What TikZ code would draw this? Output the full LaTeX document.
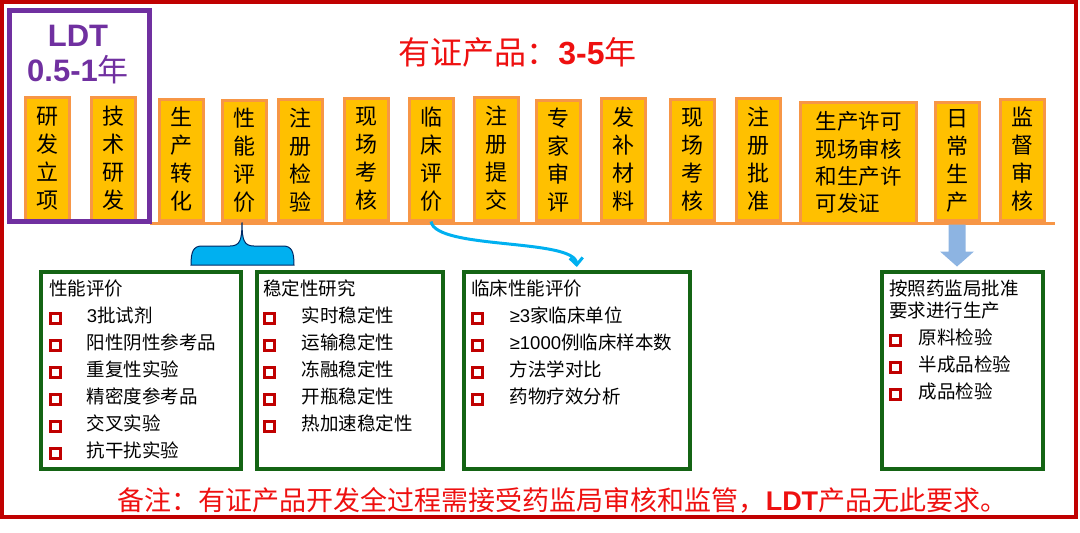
\documentclass[tikz,border=0pt]{standalone}
\usepackage{fontspec}
\setmainfont{Noto Sans CJK SC}
\newfontfamily\latinfont{Liberation Sans}
\usepackage{xcolor}
\usetikzlibrary{calc,positioning,arrows.meta}
\definecolor{framered}{RGB}{192,0,0}
\definecolor{notered}{RGB}{238,16,16}
\definecolor{ldtpurple}{RGB}{112,48,160}
\definecolor{stagefill}{RGB}{255,192,0}
\definecolor{stageline}{RGB}{247,150,70}
\definecolor{listgreen}{RGB}{20,100,20}
\definecolor{clincyan}{RGB}{0,176,240}
\definecolor{bracenavy}{RGB}{0,40,100}
\definecolor{prodblue}{RGB}{141,180,226}
\definecolor{chkred}{RGB}{192,0,0}
\newcommand{\chkbox}{{\setlength{\fboxrule}{2.8pt}\setlength{\fboxsep}{0pt}\raisebox{0.3pt}{\fcolorbox{chkred}{white}{\rule{0pt}{7pt}\rule{7pt}{0pt}}}}}
\newcommand{\ldtbf}[1]{{\latinfont\bfseries #1}}
\newcommand{\latin}[1]{{\latinfont #1}}
\tikzset{
  stagebox/.style={draw=stageline, fill=stagefill, line width=3pt, minimum width=44pt,
    inner sep=0pt, anchor=south, align=center, font=\fontsize{22}{28}\selectfont},
  listbox/.style={draw=listgreen, line width=4pt, inner sep=0pt},
  listtext/.style={inner sep=0pt, anchor=north west, font=\fontsize{18.5}{27}\selectfont},
}

\begin{document}
\begin{tikzpicture}[x=1pt,y=-1pt]
  \useasboundingbox (0,0) rectangle (1080,533);
  % outer frame
  \draw[framered, line width=4pt] (2,2) rectangle (1076,517);

  \node[font=\fontsize{32}{36}\selectfont, text=notered] (certtitle) at (517.5,52)
    {有证产品：\ldtbf{3-5}年};

  % stages
  \draw[stageline, line width=3pt] (150,223) -- (1055,223);
  \node[stagebox, minimum height=123pt] (rdproj) at (47.5,221.5) {研\\发\\立\\项};
  \node[stagebox, minimum height=123pt] (techrd) at (113.5,221.5) {技\\术\\研\\发};
  \node[stagebox, minimum height=121pt] (prodconv) at (181.5,221.5) {生\\产\\转\\化};
  \node[stagebox, minimum height=120pt] (perfeval) at (244,221.5) {性\\能\\评\\价};
  \node[stagebox, minimum height=121pt] (regtest) at (300,221.5) {注\\册\\检\\验};
  \node[stagebox, minimum height=122pt] (sitecheck) at (366,221.5) {现\\场\\考\\核};
  \node[stagebox, minimum height=122pt] (clineval) at (431,221.5) {临\\床\\评\\价};
  \node[stagebox, minimum height=123pt] (regsubmit) at (496,221.5) {注\\册\\提\\交};
  \node[stagebox, minimum height=120pt] (expreview) at (558.5,221.5) {专\\家\\审\\评};
  \node[stagebox, minimum height=122pt] (suppmat) at (623.5,221.5) {发\\补\\材\\料};
  \node[stagebox, minimum height=121pt] (sitecheckb) at (692,221.5) {现\\场\\考\\核};
  \node[stagebox, minimum height=122pt] (regapprove) at (758.5,221.5) {注\\册\\批\\准};
  \node[stagebox, minimum height=121pt, minimum width=116pt, align=left,
    font=\fontsize{21.5}{27.3}\selectfont] (license) at (858.5,224.5)
    {生产许可\\现场审核\\和生产许\\可发证};
  \node[stagebox, minimum height=118pt] (daily) at (957,221.5) {日\\常\\生\\产};
  \node[stagebox, minimum height=121pt] (supervise) at (1022,221.5) {监\\督\\审\\核};

  % LDT span
  \node[draw=ldtpurple, line width=5pt, minimum width=140pt, minimum height=211pt] (ldtspan)
    at (79.5,116) {};
  \node[text=ldtpurple, align=center, font=\fontsize{31}{35}\selectfont] (ldtlabel)
    at (78,55) {\ldtbf{LDT}\\\ldtbf{0.5-1}年};

  % detail lists
  \node[listbox, minimum width=200pt, minimum height=197pt] (perfbox) at (141,370.5) {};
  \node[listbox, minimum width=186pt, minimum height=197pt] (stabbox) at (350,370.5) {};
  \node[listbox, minimum width=226pt, minimum height=197pt] (clinbox) at (577,370.5) {};
  \node[listbox, minimum width=161pt, minimum height=197pt] (prodbox) at (962.5,370.5) {};

  \node[listtext, below right=6pt and 10pt of perfbox.north west] (perflist) {
    \begin{tabular}{@{}l@{\hspace{25pt}}l@{}}
      \multicolumn{2}{@{}l@{}}{性能评价}\\
      \chkbox & \latin{3}批试剂\\
      \chkbox & 阳性阴性参考品\\
      \chkbox & 重复性实验\\
      \chkbox & 精密度参考品\\
      \chkbox & 交叉实验\\
      \chkbox & 抗干扰实验\\
    \end{tabular}
  };
  \node[listtext, below right=6pt and 8pt of stabbox.north west] (stablist) {
    \begin{tabular}{@{}l@{\hspace{26pt}}l@{}}
      \multicolumn{2}{@{}l@{}}{稳定性研究}\\
      \chkbox & 实时稳定性\\
      \chkbox & 运输稳定性\\
      \chkbox & 冻融稳定性\\
      \chkbox & 开瓶稳定性\\
      \chkbox & 热加速稳定性\\
    \end{tabular}
  };
  \node[listtext, below right=6pt and 9pt of clinbox.north west] (clinlist) {
    \begin{tabular}{@{}l@{\hspace{26pt}}l@{}}
      \multicolumn{2}{@{}l@{}}{临床性能评价}\\
      \chkbox & \latin{≥3}家临床单位\\
      \chkbox & \latin{≥1000}例临床样本数\\
      \chkbox & 方法学对比\\
      \chkbox & 药物疗效分析\\
    \end{tabular}
  };
  \node[listtext, below right=6pt and 9pt of prodbox.north west] (prodlist) {
    \begin{tabular}{@{}l@{\hspace{17pt}}l@{}}
      \multicolumn{2}{@{}l@{}}{按照药监局批准}\\[-5pt]
      \multicolumn{2}{@{}l@{}}{要求进行生产}\\
      \chkbox & 原料检验\\
      \chkbox & 半成品检验\\
      \chkbox & 成品检验\\
    \end{tabular}
  };

  % links from stages to lists
  \coordinate (bracetip) at ($(perfeval.south)+(-2,1)$);
  \filldraw[fill=clincyan, draw=bracenavy, line width=1pt] (bracetip)
    .. controls (242,240) and (240,246) .. (230,246) -- (202,246)
    .. controls (193,246) and (191,252) .. (191,265) -- (294,265)
    .. controls (294,252) and (292,246) .. (283,246) -- (254,246)
    .. controls (244,246) and (242,240) .. (bracetip) -- cycle;
  \draw[clincyan, line width=3pt, -{Straight Barb[length=7pt,width=13pt]}, shorten >=3pt]
    (clineval.south) .. controls (436,250) and (575,238) .. (clinbox.north);
  \fill[prodblue] ($(daily.south)+(-8.5,3)$) -- ($(daily.south)+(-8.5,30)$)
    -- ($(daily.south)+(-17,30)$) -- ($(daily.south)+(0,45)$)
    -- ($(daily.south)+(17,30)$) -- ($(daily.south)+(8.5,30)$)
    -- ($(daily.south)+(8.5,3)$) -- cycle;

  \node[font=\fontsize{27}{30}\selectfont, text=notered] (note) at (562.5,500)
    {备注：有证产品开发全过程需接受药监局审核和监管，\ldtbf{LDT}产品无此要求。};
\end{tikzpicture}
\end{document}
